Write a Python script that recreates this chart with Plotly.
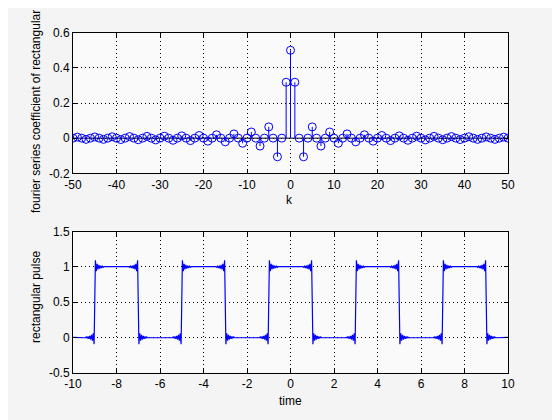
import plotly.graph_objects as go

# Fourier series coefficients c_k of the rectangular pulse, k = -50..50
K = list(range(-50, 51))
COEFFS = [
    0, 0.006, 0, -0.007, 0, 0.007, 0, -0.007, 0, 0.008, 0, -0.008, 0, 0.009, 0, -0.009, 0,
    0.010, 0, -0.010, 0, 0.011, 0, -0.012, 0, 0.013, 0, -0.014, 0, 0.015, 0, -0.017, 0,
    0.019, 0, -0.021, 0, 0.024, 0, -0.029, 0, 0.035, 0, -0.045, 0, 0.064, 0, -0.106, 0,
    0.318, 0.5, 0.318,
    0, -0.106, 0, 0.064, 0, -0.045, 0, 0.035, 0, -0.029, 0, 0.024, 0, -0.021, 0, 0.019, 0,
    -0.017, 0, 0.015, 0, -0.014, 0, 0.013, 0, -0.012, 0, 0.011, 0, -0.010, 0, 0.010, 0,
    -0.009, 0, 0.009, 0, -0.008, 0, 0.008, 0, -0.007, 0, 0.007, 0, -0.007, 0, 0.006, 0,
]

# reconstructed pulse: edge times, direction (+1 rising, -1 falling), Gibbs ripple
EDGE_TIMES = [-9, -7, -5, -3, -1, 1, 3, 5, 7, 9]
EDGE_DIRS = [1, -1, 1, -1, 1, -1, 1, -1, 1, -1]
RIPPLE_DT = [0.03, 0.07, 0.11, 0.15, 0.19, 0.23, 0.27, 0.31, 0.35, 0.39, 0.43]
RIPPLE_DY = [0.095, -0.06, 0.045, -0.036, 0.029, -0.023, 0.018, -0.014, 0.010, -0.007, 0.004]
T_START, T_END = -10, 10
LOW, HIGH = 0.0, 1.0

K_TICKS = [-50, -40, -30, -20, -10, 0, 10, 20, 30, 40, 50]
C_TICKS = [-0.2, 0, 0.2, 0.4, 0.6]
T_TICKS = [-10, -8, -6, -4, -2, 0, 2, 4, 6, 8, 10]
X_TICKS = [-0.5, 0, 0.5, 1, 1.5]

BLUE = "#0000ff"
FONT = "Liberation Sans, Arial, sans-serif"

# the page body adds an 8px offset, so the figure is a bit smaller than the window
OFF = 8
W, H = 560 - OFF, 420 - OFF


def px_x(px):
    return (px - OFF) / W


def px_y(py):
    return 1 - (py - OFF) / H


def labels_for(vals):
    # matlab style: plain hyphen, no trailing zeros
    return [("%g" % v) for v in vals]


# stem lines
stem_x, stem_y = [], []
for k, c in zip(K, COEFFS):
    stem_x += [k, k, None]
    stem_y += [0, c, None]

# pulse trace
t_pts, x_pts = [T_START], [LOW]
for t0, d in zip(EDGE_TIMES, EDGE_DIRS):
    before = LOW if d > 0 else HIGH
    after = HIGH if d > 0 else LOW
    for dt, dy in reversed(list(zip(RIPPLE_DT, RIPPLE_DY))):
        t_pts.append(t0 - dt)
        x_pts.append(before - d * dy)
    t_pts.append(t0)
    x_pts.append((LOW + HIGH) / 2)
    for dt, dy in zip(RIPPLE_DT, RIPPLE_DY):
        t_pts.append(t0 + dt)
        x_pts.append(after + d * dy)
t_pts.append(T_END)
x_pts.append(LOW)

fig = go.Figure()
fig.add_trace(go.Scatter(x=[-50, 50], y=[0, 0], mode="lines",
                         line=dict(color="black", width=1), xaxis="x", yaxis="y"))
fig.add_trace(go.Scatter(x=stem_x, y=stem_y, mode="lines",
                         line=dict(color=BLUE, width=1), xaxis="x", yaxis="y"))
fig.add_trace(go.Scatter(x=K, y=COEFFS, mode="markers",
                         marker=dict(symbol="circle-open", size=8, color=BLUE,
                                     line=dict(width=1, color=BLUE)),
                         xaxis="x", yaxis="y"))
fig.add_trace(go.Scatter(x=t_pts, y=x_pts, mode="lines",
                         line=dict(color=BLUE, width=1.2), xaxis="x2", yaxis="y2"))

axis_style = dict(
    showline=True, linecolor="black", linewidth=1, mirror="allticks",
    ticks="inside", ticklen=4, tickcolor="black",
    showgrid=True, gridcolor="black", gridwidth=1, griddash="1px,3px",
    zeroline=False, tickfont=dict(family=FONT, size=12, color="black"),
)
xd = [px_x(73), px_x(508)]
fig.update_layout(
    width=W, height=H, showlegend=False,
    margin=dict(l=0, r=0, t=0, b=0, autoexpand=False),
    paper_bgcolor="#f4f4f4", plot_bgcolor="#fafafa",
    font=dict(family=FONT, size=12, color="black"),
    xaxis=dict(domain=xd, range=[-50, 50], tickvals=K_TICKS, ticktext=labels_for(K_TICKS),
               anchor="y", **axis_style),
    yaxis=dict(domain=[px_y(173.3), px_y(32.7)], range=[-0.2, 0.6],
               tickvals=C_TICKS, ticktext=labels_for(C_TICKS), anchor="x", **axis_style),
    xaxis2=dict(domain=xd, range=[-10, 10], tickvals=T_TICKS, ticktext=labels_for(T_TICKS),
                anchor="y2", **axis_style),
    yaxis2=dict(domain=[px_y(372.7), px_y(231.7)], range=[-0.5, 1.5],
                tickvals=X_TICKS, ticktext=labels_for(X_TICKS), anchor="x2", **axis_style),
)

labels = [
    ("fourier series coefficient of rectangular", 36, 112, -90),
    ("rectangular pulse", 36, 297, -90),
    ("k", 289, 200, 0),
    ("time", 290, 401, 0),
]
for text, px, py, ang in labels:
    fig.add_annotation(text=text, x=px_x(px), y=px_y(py), xref="paper", yref="paper",
                       showarrow=False, textangle=ang, xanchor="center", yanchor="middle",
                       font=dict(family=FONT, size=12, color="black"))

fig.write_html("out.html")
